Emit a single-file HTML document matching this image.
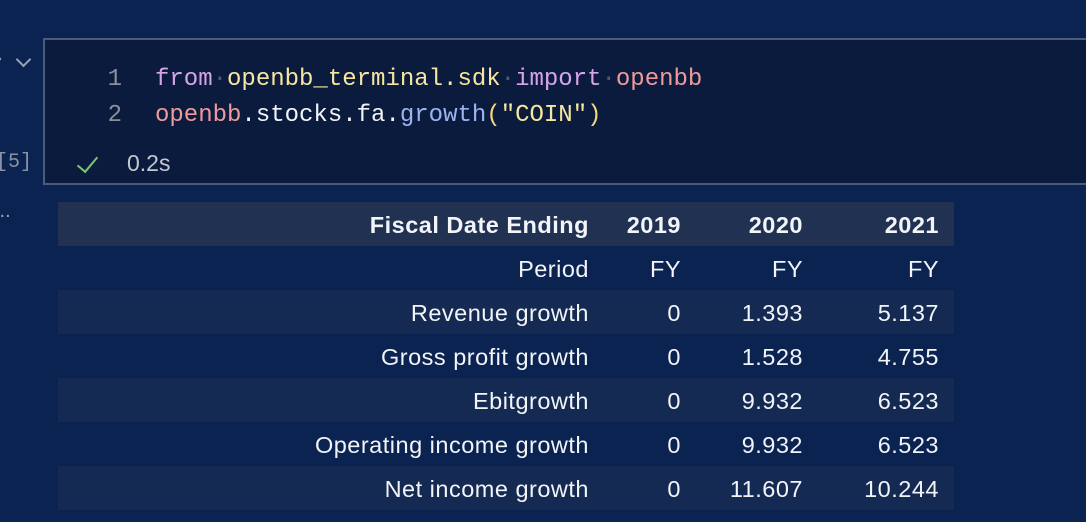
<!DOCTYPE html>
<html><head><meta charset="utf-8"><style>
html,body{margin:0;padding:0;}
body{width:1086px;height:522px;background:#0b2350;position:relative;overflow:hidden;font-family:"Liberation Sans",sans-serif;}
.abs{position:absolute;}
.cell{position:absolute;left:43px;top:38px;width:1050px;height:147px;background:#0b1b3e;border:2px solid #4b5b7a;box-sizing:border-box;}
.mono{font-family:"Liberation Mono",monospace;font-size:24px;white-space:pre;}
.ln{color:#8a8f98;width:30px;text-align:right;}
.row{position:absolute;left:58px;width:896px;height:44px;}
.t{position:absolute;font-size:23.5px;letter-spacing:0.5px;color:#f2f4f8;text-align:right;line-height:46px;top:0;}
.c0{left:0;width:531px}.c1{left:530px;width:93px}.c2{left:622px;width:123px}.c3{left:744px;width:137px}
.hd .t{font-weight:bold;}
</style></head><body>
<div class="abs" style="left:-4px;top:48px;color:#9aa3b5;font-size:18px;">›</div>
<div class="abs" style="left:18px;top:54px;width:9px;height:9px;border-right:2px solid #9aa3b5;border-bottom:2px solid #9aa3b5;transform:rotate(45deg);"></div>
<div class="abs" style="left:-4px;top:151px;color:#8a93a6;font-size:20px;font-family:'Liberation Mono',monospace;">[5]</div>
<div class="abs" style="left:-6px;top:200px;color:#9aa3b5;font-size:20px;">...</div>
<div class="cell"></div>
<div class="abs mono ln" style="left:92px;top:66px;">1</div>
<div class="abs mono ln" style="left:92px;top:102px;">2</div>
<div class="abs mono" style="left:155px;top:66px;"><span style="color:#d7a4ea">from</span><span style="color:#4a5a78">·</span><span style="color:#f6e6a0">openbb_terminal.sdk</span><span style="color:#4a5a78">·</span><span style="color:#d7a4ea">import</span><span style="color:#4a5a78">·</span><span style="color:#ef9a9a">openbb</span></div>
<div class="abs mono" style="left:155px;top:102px;"><span style="color:#ef9a9a">openbb</span><span style="color:#f2f4f8">.stocks.fa.</span><span style="color:#9ab4f0">growth</span><span style="color:#f6d77a">(</span><span style="color:#f6e6a0">"COIN"</span><span style="color:#f6d77a">)</span></div>
<div class="abs" style="left:82px;top:152px;width:9px;height:18px;border-right:2px solid #7cc47c;border-bottom:2px solid #7cc47c;transform:rotate(40deg);"></div>
<div class="abs" style="left:127px;top:150px;color:#c4c8d0;font-size:23px;">0.2s</div>

<div class="row hd" style="top:202px;background:#213152;">
<div class="t c0">Fiscal Date Ending</div><div class="t c1">2019</div><div class="t c2">2020</div><div class="t c3">2021</div></div>
<div class="row" style="top:246px;">
<div class="t c0">Period</div><div class="t c1">FY</div><div class="t c2">FY</div><div class="t c3">FY</div></div>
<div class="row" style="top:290px;background:#142a52;">
<div class="t c0">Revenue growth</div><div class="t c1">0</div><div class="t c2">1.393</div><div class="t c3">5.137</div></div>
<div class="row" style="top:334px;">
<div class="t c0">Gross profit growth</div><div class="t c1">0</div><div class="t c2">1.528</div><div class="t c3">4.755</div></div>
<div class="row" style="top:378px;background:#142a52;">
<div class="t c0">Ebitgrowth</div><div class="t c1">0</div><div class="t c2">9.932</div><div class="t c3">6.523</div></div>
<div class="row" style="top:422px;">
<div class="t c0">Operating income growth</div><div class="t c1">0</div><div class="t c2">9.932</div><div class="t c3">6.523</div></div>
<div class="row" style="top:466px;background:#142a52;">
<div class="t c0">Net income growth</div><div class="t c1">0</div><div class="t c2">11.607</div><div class="t c3">10.244</div></div>
</body></html>
